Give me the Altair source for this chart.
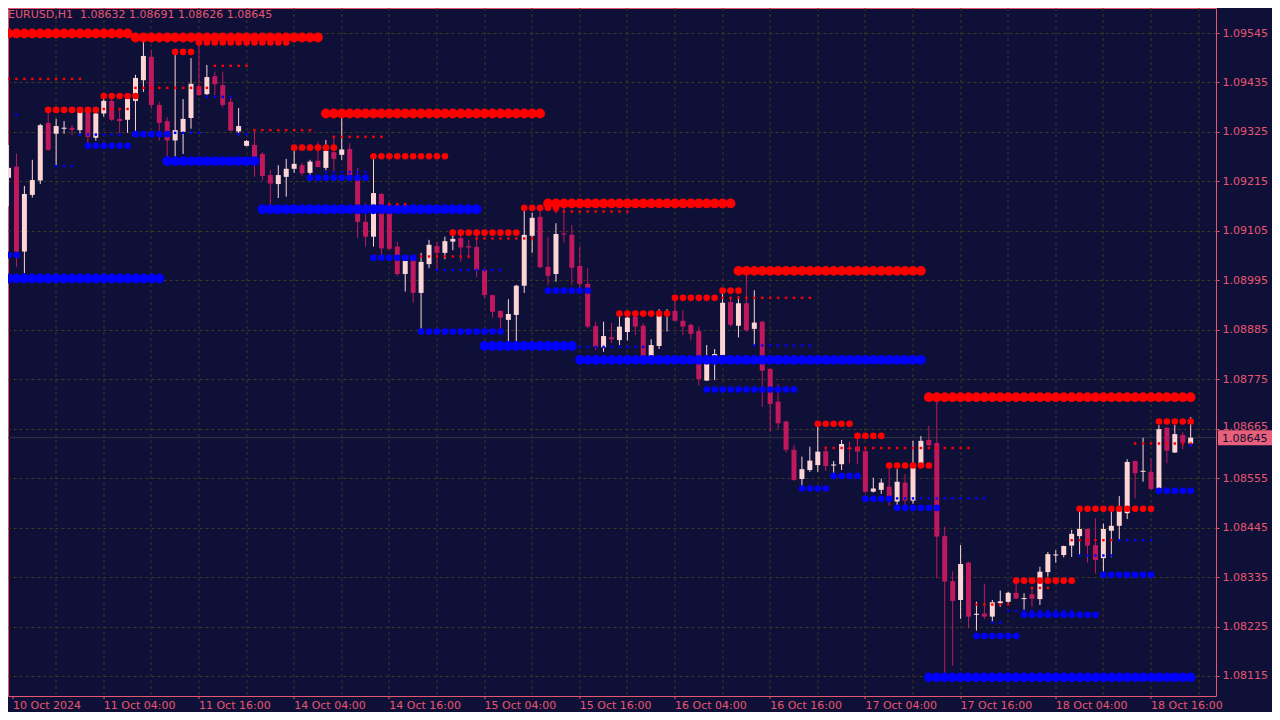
import altair as alt
import pandas as pd
import numpy as np

# ---------------- data ----------------
SYMBOL = "EURUSD,H1"

tick_labels = ["10 Oct 2024", "11 Oct 04:00", "11 Oct 16:00", "14 Oct 04:00", "14 Oct 16:00",
               "15 Oct 04:00", "15 Oct 16:00", "16 Oct 04:00", "16 Oct 16:00", "17 Oct 04:00",
               "17 Oct 16:00", "18 Oct 04:00", "18 Oct 16:00"]
y_ticks = [1.09545, 1.09435, 1.09325, 1.09215, 1.09105, 1.08995, 1.08885, 1.08775,
           1.08665, 1.08555, 1.08445, 1.08335, 1.08225, 1.08115]

opens = [1.09223, 1.09248, 1.09059, 1.09185, 1.09217, 1.09345, 1.09321, 1.09332, 1.09334, 1.09329,
         1.09373, 1.09312, 1.09366, 1.09394, 1.09354, 1.09352, 1.09394, 1.09440, 1.09492, 1.09385,
         1.09349, 1.09306, 1.09325, 1.09356, 1.09427, 1.09409, 1.09449, 1.09429, 1.09392, 1.09326,
         1.09294, 1.09296, 1.09276, 1.09229, 1.09209, 1.09225, 1.09243, 1.09251, 1.09234, 1.09261,
         1.09245, 1.09280, 1.09274, 1.09287, 1.09223, 1.09125, 1.09092, 1.09187, 1.09145, 1.09070,
         1.09009, 1.09039, 1.08967, 1.09031, 1.09071, 1.09056, 1.09081, 1.09089, 1.09071, 1.09069,
         1.09018, 1.08962, 1.08927, 1.08907, 1.08918, 1.08983, 1.09094, 1.09136, 1.09025, 1.09009,
         1.09099, 1.09096, 1.09027, 1.08987, 1.08893, 1.08846, 1.08868, 1.08862, 1.08880, 1.08914,
         1.08894, 1.08825, 1.08849, 1.08920, 1.08927, 1.08905, 1.08896, 1.08882, 1.08772, 1.08825,
         1.08829, 1.08947, 1.08894, 1.08944, 1.08887, 1.08903, 1.08798, 1.08725, 1.08681, 1.08618,
         1.08553, 1.08573, 1.08584, 1.08615, 1.08583, 1.08586, 1.08622, 1.08625, 1.08615, 1.08525,
         1.08529, 1.08536, 1.08503, 1.08545, 1.08505, 1.08582, 1.08640, 1.08633, 1.08426, 1.08326,
         1.08284, 1.08367, 1.08251, 1.08254, 1.08247, 1.08277, 1.08280, 1.08300, 1.08286, 1.08297,
         1.08286, 1.08346, 1.08383, 1.08384, 1.08405, 1.08426, 1.08442, 1.08406, 1.08377, 1.08438,
         1.08449, 1.08477, 1.08593, 1.08569, 1.08569, 1.08531, 1.08667, 1.08612, 1.08651, 1.08632]
highs = [1.09296, 1.09277, 1.09205, 1.09263, 1.09343, 1.09367, 1.09354, 1.09349, 1.09340, 1.09374,
         1.09374, 1.09367, 1.09400, 1.09400, 1.09378, 1.09407, 1.09452, 1.09526, 1.09507, 1.09392,
         1.09358, 1.09500, 1.09398, 1.09489, 1.09523, 1.09474, 1.09459, 1.09459, 1.09403, 1.09378,
         1.09307, 1.09329, 1.09280, 1.09240, 1.09251, 1.09265, 1.09285, 1.09256, 1.09263, 1.09303,
         1.09307, 1.09314, 1.09363, 1.09300, 1.09245, 1.09167, 1.09270, 1.09189, 1.09167, 1.09081,
         1.09048, 1.09040, 1.09056, 1.09085, 1.09081, 1.09092, 1.09101, 1.09101, 1.09085, 1.09101,
         1.09019, 1.08963, 1.08928, 1.08953, 1.08985, 1.09155, 1.09145, 1.09156, 1.09092, 1.09122,
         1.09159, 1.09118, 1.09071, 1.09022, 1.08903, 1.08903, 1.08900, 1.08914, 1.08918, 1.08918,
         1.08899, 1.08864, 1.08931, 1.08931, 1.08955, 1.08929, 1.08899, 1.08892, 1.08851, 1.08842,
         1.08973, 1.08959, 1.08959, 1.09011, 1.08973, 1.08905, 1.08799, 1.08764, 1.08683, 1.08629,
         1.08603, 1.08625, 1.08673, 1.08626, 1.08593, 1.08640, 1.08636, 1.08649, 1.08625, 1.08556,
         1.08554, 1.08582, 1.08575, 1.08564, 1.08638, 1.08649, 1.08671, 1.08725, 1.08447, 1.08348,
         1.08406, 1.08369, 1.08280, 1.08320, 1.08284, 1.08305, 1.08302, 1.08329, 1.08299, 1.08314,
         1.08358, 1.08391, 1.08395, 1.08405, 1.08440, 1.08480, 1.08443, 1.08466, 1.08454, 1.08480,
         1.08515, 1.08597, 1.08594, 1.08645, 1.08599, 1.08673, 1.08668, 1.08673, 1.08657, 1.08691]
lows = [1.09160, 1.09025, 1.09011, 1.09179, 1.09209, 1.09283, 1.09249, 1.09321, 1.09318, 1.09316,
        1.09300, 1.09306, 1.09359, 1.09349, 1.09323, 1.09323, 1.09326, 1.09414, 1.09376, 1.09306,
        1.09270, 1.09270, 1.09276, 1.09332, 1.09405, 1.09407, 1.09407, 1.09380, 1.09326, 1.09320,
        1.09293, 1.09225, 1.09217, 1.09162, 1.09178, 1.09181, 1.09234, 1.09228, 1.09225, 1.09246,
        1.09240, 1.09236, 1.09263, 1.09225, 1.09089, 1.09070, 1.09070, 1.09051, 1.09062, 1.09005,
        1.08970, 1.08945, 1.08886, 1.09022, 1.09018, 1.09042, 1.09062, 1.09036, 1.09044, 1.09002,
        1.08955, 1.08912, 1.08886, 1.08858, 1.08853, 1.08967, 1.09056, 1.09022, 1.08985, 1.08992,
        1.09079, 1.08985, 1.08977, 1.08888, 1.08840, 1.08836, 1.08856, 1.08851, 1.08861, 1.08873,
        1.08819, 1.08819, 1.08842, 1.08881, 1.08904, 1.08873, 1.08862, 1.08761, 1.08771, 1.08773,
        1.08825, 1.08892, 1.08868, 1.08881, 1.08849, 1.08713, 1.08658, 1.08664, 1.08612, 1.08549,
        1.08538, 1.08569, 1.08569, 1.08571, 1.08566, 1.08573, 1.08588, 1.08586, 1.08521, 1.08523,
        1.08520, 1.08493, 1.08495, 1.08495, 1.08498, 1.08580, 1.08626, 1.08332, 1.08117, 1.08138,
        1.08242, 1.08221, 1.08216, 1.08242, 1.08234, 1.08269, 1.08278, 1.08286, 1.08260, 1.08269,
        1.08273, 1.08336, 1.08367, 1.08379, 1.08380, 1.08382, 1.08367, 1.08343, 1.08347, 1.08379,
        1.08419, 1.08464, 1.08510, 1.08547, 1.08529, 1.08529, 1.08588, 1.08611, 1.08619, 1.08626]
closes = [1.09245, 1.09059, 1.09187, 1.09218, 1.09340, 1.09285, 1.09338, 1.09334, 1.09330, 1.09372,
          1.09314, 1.09366, 1.09394, 1.09352, 1.09349, 1.09399, 1.09445, 1.09494, 1.09385, 1.09345,
          1.09306, 1.09329, 1.09354, 1.09432, 1.09407, 1.09447, 1.09431, 1.09385, 1.09328, 1.09338,
          1.09305, 1.09268, 1.09227, 1.09210, 1.09229, 1.09243, 1.09254, 1.09233, 1.09259, 1.09247,
          1.09283, 1.09265, 1.09286, 1.09227, 1.09125, 1.09092, 1.09189, 1.09066, 1.09065, 1.09009,
          1.09038, 1.08967, 1.09036, 1.09074, 1.09056, 1.09082, 1.09087, 1.09068, 1.09068, 1.09018,
          1.08962, 1.08925, 1.08912, 1.08920, 1.08983, 1.09096, 1.09134, 1.09024, 1.09005, 1.09098,
          1.09097, 1.09023, 1.08987, 1.08892, 1.08847, 1.08871, 1.08864, 1.08892, 1.08912, 1.08892,
          1.08825, 1.08851, 1.08918, 1.08922, 1.08905, 1.08892, 1.08876, 1.08775, 1.08810, 1.08831,
          1.08945, 1.08896, 1.08944, 1.08884, 1.08901, 1.08794, 1.08720, 1.08677, 1.08618, 1.08551,
          1.08575, 1.08594, 1.08614, 1.08582, 1.08585, 1.08631, 1.08620, 1.08614, 1.08525, 1.08532,
          1.08545, 1.08512, 1.08547, 1.08505, 1.08579, 1.08638, 1.08628, 1.08425, 1.08325, 1.08282,
          1.08364, 1.08247, 1.08253, 1.08247, 1.08279, 1.08281, 1.08300, 1.08287, 1.08287, 1.08287,
          1.08347, 1.08386, 1.08385, 1.08404, 1.08431, 1.08442, 1.08405, 1.08373, 1.08442, 1.08449,
          1.08482, 1.08591, 1.08566, 1.08570, 1.08531, 1.08664, 1.08616, 1.08653, 1.08634, 1.08645]

# level segments: (price, first bar, last bar)
red_big = [(1.09544, 0, 15), (1.09535, 16, 39), (1.09366, 40, 67), (1.09166, 68, 91),
           (1.09016, 92, 115), (1.08735, 116, 149)]
blue_big = [(1.08999, 0, 19), (1.09260, 20, 31), (1.09153, 32, 59), (1.08849, 60, 71),
            (1.08818, 72, 115), (1.08112, 116, 149)]
red_mid = [(1.09374, 5, 11), (1.09405, 12, 16), (1.09503, 21, 23), (1.09524, 24, 35),
           (1.09290, 36, 41), (1.09271, 46, 55), (1.09101, 56, 64), (1.09156, 65, 69),
           (1.08921, 77, 83), (1.08956, 84, 89), (1.08972, 90, 92), (1.08676, 102, 106),
           (1.08649, 107, 110), (1.08583, 111, 116), (1.08327, 127, 134), (1.08487, 135, 144),
           (1.08681, 145, 149)]
blue_mid = [(1.09051, 0, 1), (1.09294, 10, 15), (1.09320, 16, 20), (1.09223, 38, 45),
            (1.09045, 46, 51), (1.08881, 52, 62), (1.08972, 68, 73), (1.08752, 88, 99),
            (1.08532, 100, 103), (1.08560, 104, 107), (1.08509, 108, 111), (1.08489, 112, 117),
            (1.08204, 122, 127), (1.08251, 128, 137), (1.08340, 138, 144), (1.08527, 145, 149)]
red_small = [(1.09443, 0, 9), (1.09376, 12, 15), (1.09423, 16, 25), (1.09472, 26, 30),
             (1.09329, 31, 38), (1.09314, 41, 47), (1.09164, 48, 50), (1.09048, 52, 58),
             (1.09088, 59, 66), (1.09148, 69, 78), (1.08956, 90, 101), (1.08622, 103, 121),
             (1.08274, 122, 126), (1.08311, 129, 131), (1.08417, 134, 139), (1.08632, 142, 149)]
blue_small = [(1.09363, 1, 1), (1.09249, 6, 8), (1.09319, 9, 14), (1.09323, 21, 24),
              (1.09403, 25, 28), (1.09320, 29, 30), (1.09236, 40, 45), (1.09018, 54, 62),
              (1.08847, 72, 80), (1.08850, 94, 101), (1.08510, 112, 123), (1.08234, 124, 125),
              (1.08260, 126, 134), (1.08383, 135, 139), (1.08417, 140, 144), (1.08628, 149, 149)]

# ---------------- styles ----------------
BG = "#0e1038"
FG = "#e6566f"
GRID = "#3d3820"
BULL = "#fdd5d5"
BEAR = "#c0185c"
RED = "#ff0000"
BLUE = "#0000ff"
PRICE_LINE = "#34343f"
BOX = "#e8607a"
BOX_TEXT = "#0e1038"
FONT = "DejaVu Sans"

W, H = 1208, 688
X0 = 0.5625
x_scale = alt.Scale(domain=[X0, X0 + W / 8], nice=False, zero=False)
y_scale = alt.Scale(domain=[1.080705, 1.096006], nice=False, zero=False)

# ---------------- frames ----------------
n = len(opens)
df = pd.DataFrame({"i": list(range(n)), "o": opens, "h": highs, "l": lows, "c": closes})
df["col"] = np.where(df["c"] >= df["o"], BULL, BEAR)
df["lo"] = df[["o", "c"]].min(axis=1)
df["hi"] = np.maximum(df[["o", "c"]].max(axis=1), df["lo"] + 0.000024)

def expand(segs, colour):
    rows = []
    for price, s, e in segs:
        for k in range(s, e + 1):
            rows.append({"i": k, "p": price, "col": colour})
    return rows

big = pd.DataFrame(expand(red_big, RED) + expand(blue_big, BLUE))
mid = pd.DataFrame(expand(red_mid, RED) + expand(blue_mid, BLUE))
small = pd.DataFrame(expand(red_small, RED) + expand(blue_small, BLUE))

last = df.iloc[[-1]].copy()
last["label"] = last["c"].map(lambda v: f"{v:.5f}")
title_txt = (f"{SYMBOL}\u00a0\u00a0{last['o'].iloc[0]:.5f} {last['h'].iloc[0]:.5f} "
             f"{last['l'].iloc[0]:.5f} {last['c'].iloc[0]:.5f}")
last["title"] = title_txt

# ---------------- axes ----------------
x_vals = [X0] + list(range(6, 151, 6))
arr = "[" + ",".join(f"'{s}'" for s in tick_labels) + "]"
label_expr = f"datum.value < 1 ? '{tick_labels[0]}' : (datum.value % 12 == 0 ? {arr}[datum.value / 12] : '')"

x_axis = alt.Axis(values=x_vals, labelExpr=label_expr, grid=True, gridColor=GRID, gridDash=[3, 3],
                  gridOpacity={"condition": {"test": "datum.value < 1", "value": 0}, "value": 1},
                  tickColor=FG, tickSize=3,
                  tickOpacity={"condition": {"test": "datum.value < 1 || datum.value % 12 == 0", "value": 1}, "value": 0},
                  domain=False, labelColor=FG, labelFont=FONT, labelFontSize=11, labelAlign="left",
                  labelBaseline="top", labelPadding=1, labelOverlap=False, labelFlush=False,
                  labelBound=False, translate=0, title=None)
# the tick label right above the current-price box is nudged up so the two texts do not collide
near_price = f"abs(datum.value - {closes[-1]}) < 0.0004"
y_axis = alt.Axis(values=y_ticks, format=".5f", orient="right", grid=True, gridColor=GRID,
                  gridDash=[3, 3], tickColor=FG, tickSize=3, domain=False, labelColor=FG,
                  labelFont=FONT, labelFontSize=11, labelPadding=3, labelAlign="left",
                  labelOffset={"condition": {"test": near_price, "value": -2.5}, "value": 0},
                  labelOverlap=False, labelFlush=False, title=None)

def X(f):
    return alt.X(f, scale=x_scale, axis=x_axis)

def Y(f):
    return alt.Y(f, scale=y_scale, axis=y_axis)

col = alt.Color("col:N", scale=None)

price_line = alt.Chart(last).mark_rule(color=PRICE_LINE, strokeWidth=1).encode(y=Y("c:Q"))

wicks = alt.Chart(df).mark_rule(strokeWidth=1, clip=True).encode(
    x=X("i:Q"), y=Y("l:Q"), y2="h:Q", color=col)

bodies = alt.Chart(df).mark_bar(size=5, clip=True).encode(
    x=X("i:Q"), y=Y("lo:Q"), y2="hi:Q", color=col)

dots_big = alt.Chart(big).mark_circle(size=96, opacity=1, clip=True).encode(
    x=X("i:Q"), y=Y("p:Q"), color=col)
dots_mid = alt.Chart(mid).mark_circle(size=44, opacity=1, clip=True).encode(
    x=X("i:Q"), y=Y("p:Q"), color=col)
dots_small = alt.Chart(small).mark_square(size=6, opacity=1, clip=True).encode(
    x=X("i:Q"), y=Y("p:Q"), color=col)

box = alt.Chart(last).mark_rule(color=BOX, strokeWidth=15).encode(
    x=alt.value(W + 2), x2=alt.value(W + 56), y=Y("c:Q"))
box_text = alt.Chart(last).mark_text(align="left", baseline="middle", font=FONT, fontSize=11,
                                     color=BOX_TEXT, dy=1.5).encode(
    x=alt.value(W + 6), y=Y("c:Q"), text="label:N")

title = alt.Chart(last).mark_text(align="left", baseline="alphabetic", font=FONT, fontSize=11,
                                  color=FG).encode(
    x=alt.value(0), y=alt.value(9.5), text="title:N")

chart = alt.layer(price_line, wicks, bodies, dots_big, dots_mid, dots_small, box, box_text, title).properties(
    width=W, height=H, background=BG,
    autosize=alt.AutoSizeParams(type="none"),
    padding={"left": 0, "top": 0, "right": 56, "bottom": 16},
).configure_view(stroke=FG, strokeWidth=1)

chart.save("out.html", embed_options={"renderer": "svg", "actions": False})
